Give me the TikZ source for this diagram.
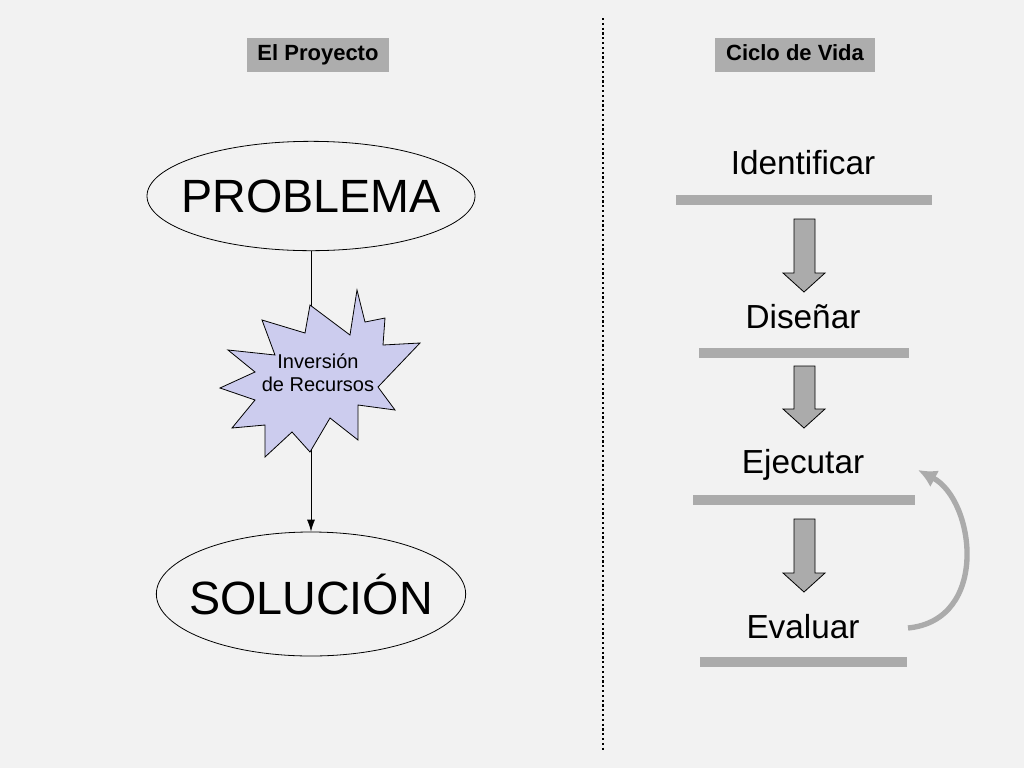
\documentclass[tikz,border=0pt]{standalone}
\usepackage{fontspec}
\setmainfont{Liberation Sans}
\usetikzlibrary{shapes.geometric,arrows.meta}
\definecolor{bg}{HTML}{F2F2F2}
\definecolor{tbox}{HTML}{ADADAD}
\definecolor{bar}{HTML}{ABABAB}
\definecolor{star}{HTML}{CCCCEE}
\begin{document}
\begin{tikzpicture}[x=0.75pt,y=-0.75pt,
  title/.style={fill=tbox,font=\bfseries\fontsize{16.5}{19}\selectfont,text height=12pt,text depth=3.5pt,inner ysep=5pt,inner xsep=8pt},
  oval/.style={ellipse,draw,fill=bg,line width=0.6pt,inner sep=0pt},
  ovaltext/.style={font=\fontsize{35}{40}\selectfont},
  steptext/.style={font=\fontsize{25}{29}\selectfont},
  barline/.style={bar,line width=7pt},
  down/.style={draw,fill=bar,line width=0.6pt}]
\fill[bg] (0,0) rectangle (1024,768);
\useasboundingbox (0,0) rectangle (1024,768);
\draw[line width=1.6pt,dotted] (603,18) -- (603,750);
\node[title] (t1) at (318,55) {El Proyecto};
\node[title] (t2) at (795,55) {Ciclo de Vida};
\node[oval,minimum width=246pt,minimum height=82pt] (p) at (311,196) {};
\node[ovaltext] (pt) at (311,196) {PROBLEMA};
\node[oval,minimum width=232pt,minimum height=93pt] (s) at (311,594) {};
\node[ovaltext] (st) at (311,594) {SOLUCIÓN};
\draw[-{Latex[length=9pt,width=6pt]},line width=0.6pt] (p.south) -- (s.north);
\draw[fill=star,line width=0.6pt] (357,290) -- (350,335) -- (310,305) -- (305,333) -- (262,320)
 -- (275,355) -- (228,350) -- (255,372) -- (220,388) -- (255,400) -- (232,428) -- (265,425)
 -- (265,457) -- (292,432) -- (310,452) -- (330,418) -- (358,440) -- (358,405) -- (395,410)
 -- (378,387) -- (420,343) -- (383,345) -- (385,318) -- (365,322) -- cycle;
\node[align=center,font=\fontsize{15}{17}\selectfont] (inv) at (318,373) {Inversión\\de Recursos};
\node[steptext] (i) at (803,163) {Identificar};
\node[steptext] (d) at (803,317) {Diseñar};
\node[steptext] (e) at (803,465) {Ejecutar};
\node[steptext] (v) at (803,627) {Evaluar};
\draw[barline] (676,200) -- (932,200);
\draw[barline] (699,353) -- (909,353);
\draw[barline] (693,500) -- (915,500);
\draw[barline] (700,662) -- (907,662);
\draw[down] (794,219) -- (815,219) -- (815,273) -- (825,273) -- (804,292) -- (783,273) -- (794,273) -- cycle;
\draw[down] (794,366) -- (815,366) -- (815,409) -- (825,409) -- (804,428) -- (783,409) -- (794,409) -- cycle;
\draw[down] (794,519) -- (815,519) -- (815,573) -- (825,573) -- (804,592) -- (783,573) -- (794,573) -- cycle;
\coordinate (c1) at (908,628);
\coordinate (c2) at (918,470);
\draw[bar,line width=4pt,-{Latex[length=14pt,width=14pt]}] (c1) .. controls (990,620) and (975,500) .. (c2);
\end{tikzpicture}
\end{document}
